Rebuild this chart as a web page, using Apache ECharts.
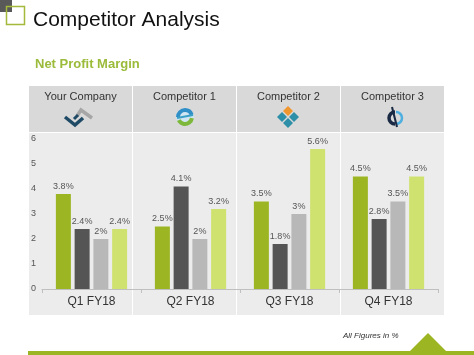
<!DOCTYPE html>
<html>
<head>
<meta charset="utf-8">
<script src="https://cdn.jsdelivr.net/npm/echarts@6/dist/echarts.min.js"></script>
<style>
html,body{margin:0;padding:0;background:#fff;}
#c{width:474px;height:355px;}
</style>
</head>
<body>
<div id="c"></div>
<script>
const categories = ['Q1 FY18', 'Q2 FY18', 'Q3 FY18', 'Q4 FY18'];
const seriesNames = ['Your Company', 'Competitor 1', 'Competitor 2', 'Competitor 3'];
const yourCompany = [3.8, 2.5, 3.5, 4.5];
const competitor1 = [2.4, 4.1, 1.8, 2.8];
const competitor2 = [2, 2, 3, 3.5];
const competitor3 = [2.4, 3.2, 5.6, 4.5];
const yTicks = [0, 1, 2, 3, 4, 5, 6];

const colors = ['#9bb523', '#555555', '#b8b8b8', '#cfe26f'];
const values = [yourCompany, competitor1, competitor2, competitor3];

const chart = echarts.init(document.getElementById('c'), null, {renderer: 'canvas'});
const font = 'Liberation Sans, Arial, sans-serif';

const colX = [29, 133, 237, 341];
const colW = 103;
const graphics = [];
// panel backgrounds
colX.forEach((x, i) => {
  graphics.push({type: 'rect', z: -10, shape: {x: x, y: 86, width: colW, height: 46}, style: {fill: '#d9d9d9'}});
  graphics.push({type: 'rect', z: -10, shape: {x: x, y: 133, width: colW, height: 182}, style: {fill: '#ececec'}});
  graphics.push({type: 'text', z: 5, style: {text: seriesNames[i], x: x + colW / 2, y: 97, textAlign: 'center', textVerticalAlign: 'middle', fill: '#333', font: '11px ' + font}});
});
// decoration top-left
graphics.push({type: 'rect', shape: {x: 0, y: 0, width: 12, height: 12}, style: {fill: '#595959'}});
graphics.push({type: 'rect', shape: {x: 6.5, y: 6.5, width: 18, height: 18}, style: {fill: 'none', stroke: '#a5b93c', lineWidth: 1.5}});
graphics.push({type: 'text', style: {text: 'Competitor Analysis', x: 33, y: 20, textVerticalAlign: 'middle', fill: '#111', font: '21px ' + font}});
graphics.push({type: 'text', style: {text: 'Net Profit Margin', x: 35, y: 64, textVerticalAlign: 'middle', fill: '#9bbb3b', font: 'bold 13px ' + font}});
graphics.push({type: 'text', style: {text: 'All Figures in %', x: 343, y: 336, textVerticalAlign: 'middle', fill: '#333', font: 'italic 8px ' + font}});
// bottom band + triangle
graphics.push({type: 'rect', shape: {x: 28, y: 351, width: 446, height: 4}, style: {fill: '#9bb523'}});
graphics.push({type: 'polygon', shape: {points: [[410, 351], [428, 333], [446, 351]]}, style: {fill: '#9bb523'}});
// logo 1: Your Company
graphics.push({type: 'polyline', shape: {points: [[77, 116], [81, 110], [92, 118]]}, style: {stroke: '#a6a6a6', lineWidth: 3.5, fill: 'none'}});
graphics.push({type: 'polyline', shape: {points: [[65, 117], [75, 125], [83, 118]]}, style: {stroke: '#1f4a66', lineWidth: 3.5, fill: 'none'}});
graphics.push({type: 'line', shape: {x1: 74, y1: 119, x2: 78, y2: 115}, style: {stroke: '#1f4a66', lineWidth: 3}});
// logo 2: Competitor 1
graphics.push({type: 'circle', shape: {cx: 185, cy: 117, r: 9}, style: {fill: '#d0e6f2'}});
graphics.push({type: 'arc', shape: {cx: 185, cy: 117, r: 7, startAngle: Math.PI * 1.0, endAngle: Math.PI * 1.9}, style: {stroke: '#2f8fc6', lineWidth: 4, fill: 'none'}});
graphics.push({type: 'arc', shape: {cx: 185, cy: 117, r: 7, startAngle: Math.PI * 0.05, endAngle: Math.PI * 0.85}, style: {stroke: '#7db83a', lineWidth: 4, fill: 'none'}});
graphics.push({type: 'line', shape: {x1: 177, y1: 118, x2: 193, y2: 115}, style: {stroke: '#3aa0c8', lineWidth: 2}});
// logo 3: Competitor 2
[[288, 111, '#f0962e'], [282, 117, '#2e8fa8'], [294, 117, '#2e8fa8'], [288, 123, '#2e8fa8']].forEach(d => {
  graphics.push({type: 'polygon', shape: {points: [[d[0], d[1] - 5], [d[0] + 5, d[1]], [d[0], d[1] + 5], [d[0] - 5, d[1]]]}, style: {fill: d[2]}});
});
// logo 4: Competitor 3
graphics.push({type: 'arc', shape: {cx: 395, cy: 118, r: 6, startAngle: Math.PI * 0.5, endAngle: Math.PI * 1.5}, style: {stroke: '#1b2a44', lineWidth: 3.5, fill: 'none'}});
graphics.push({type: 'arc', shape: {cx: 396, cy: 118, r: 6, startAngle: Math.PI * 1.5, endAngle: Math.PI * 0.5}, style: {stroke: '#4fb0e0', lineWidth: 2.5, fill: 'none'}});
graphics.push({type: 'line', shape: {x1: 392, y1: 107, x2: 397, y2: 127}, style: {stroke: '#1b2a44', lineWidth: 2}});

chart.setOption({
  animation: false,
  backgroundColor: '#ffffff',
  grid: {left: 42, right: 36, top: 139, bottom: 66},
  graphic: graphics,
  xAxis: {
    type: 'category',
    data: categories,
    axisLine: {lineStyle: {color: '#bfbfbf'}},
    axisTick: {show: true, length: 4, lineStyle: {color: '#bfbfbf'}},
    axisLabel: {color: '#333', fontSize: 12, fontFamily: font, margin: 7},
    z: 10
  },
  yAxis: {
    type: 'value',
    min: yTicks[0],
    max: yTicks[yTicks.length - 1],
    interval: 1,
    splitLine: {show: false},
    axisLine: {show: false},
    axisTick: {show: false},
    axisLabel: {color: '#555', fontSize: 9, fontFamily: font, margin: 6}
  },
  series: values.map((v, i) => ({
    name: seriesNames[i],
    type: 'bar',
    data: v,
    barWidth: 15,
    barGap: '25%',
    itemStyle: {color: colors[i]},
    label: {show: true, position: 'top', distance: 3, formatter: p => p.value + '%', color: '#555', fontSize: 9, fontFamily: font}
  }))
});
</script>
</body>
</html>
